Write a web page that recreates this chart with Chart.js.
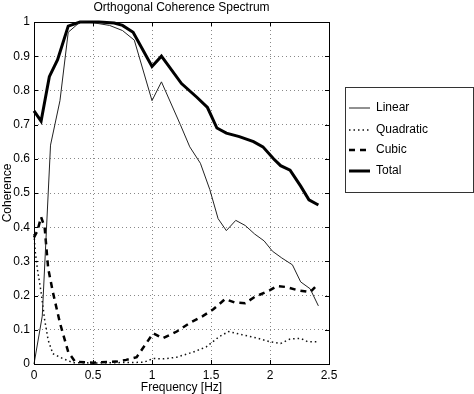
<!DOCTYPE html>
<html>
<head>
<meta charset="utf-8">
<script src="https://cdn.jsdelivr.net/npm/chart.js@4/dist/chart.umd.min.js"></script>
<style>
  body { margin: 0; background: #fff; }
  #wrap { width: 474px; height: 394px; position: relative; }
</style>
</head>
<body>
<div id="wrap"><canvas id="cohChart"></canvas></div>
<script>
// Data
var freqLinear = [0, 0.07, 0.14, 0.22, 0.29, 0.39, 0.5, 0.64, 0.75, 0.85, 1.0, 1.08, 1.24, 1.32, 1.41, 1.49, 1.56, 1.63, 1.71, 1.79, 1.87, 1.95, 2.02, 2.10, 2.19, 2.26, 2.34, 2.41];
var linear     = [0, 0.14, 0.64, 0.77, 0.97, 1.0, 0.998, 0.99, 0.975, 0.947, 0.77, 0.825, 0.70, 0.635, 0.587, 0.51, 0.425, 0.39, 0.42, 0.405, 0.38, 0.36, 0.33, 0.31, 0.29, 0.24, 0.22, 0.17];

var freqQuad   = [0, 0.01, 0.03, 0.06, 0.09, 0.12, 0.16, 0.25, 0.33, 0.5, 0.93, 1.01, 1.1, 1.21, 1.35, 1.46, 1.57, 1.65, 1.77, 1.89, 2.0, 2.09, 2.17, 2.26, 2.32, 2.41];
var quadratic  = [0.38, 0.33, 0.275, 0.21, 0.13, 0.07, 0.03, 0.015, 0.004, 0.003, 0.005, 0.016, 0.015, 0.02, 0.035, 0.05, 0.08, 0.095, 0.085, 0.076, 0.065, 0.06, 0.073, 0.075, 0.065, 0.065];

var freqCubic  = [0, 0.03, 0.06, 0.09, 0.12, 0.16, 0.22, 0.29, 0.35, 0.5, 0.7, 0.78, 0.87, 0.95, 1.01, 1.09, 1.21, 1.32, 1.43, 1.52, 1.62, 1.70, 1.79, 1.87, 2.0, 2.06, 2.14, 2.23, 2.34, 2.41];
var cubic      = [0.37, 0.39, 0.43, 0.40, 0.28, 0.21, 0.12, 0.035, 0.006, 0.004, 0.007, 0.012, 0.02, 0.06, 0.09, 0.075, 0.095, 0.12, 0.14, 0.16, 0.19, 0.18, 0.178, 0.196, 0.216, 0.228, 0.225, 0.216, 0.21, 0.235];

var freqTotal  = [0, 0.06, 0.13, 0.20, 0.29, 0.39, 0.55, 0.68, 0.75, 0.84, 1.0, 1.08, 1.25, 1.38, 1.47, 1.55, 1.63, 1.74, 1.86, 1.94, 2.03, 2.09, 2.17, 2.26, 2.33, 2.41];
var total      = [0.74, 0.71, 0.84, 0.89, 0.988, 1.0, 1.0, 0.997, 0.99, 0.97, 0.87, 0.90, 0.82, 0.78, 0.75, 0.69, 0.675, 0.665, 0.65, 0.635, 0.60, 0.58, 0.567, 0.52, 0.48, 0.465];

var seriesNames = ['Linear', 'Quadratic', 'Cubic', 'Total'];

function toPoints(xs, ys) {
    return xs.map((x, i) => ({ x: x, y: ys[i] }));
}

// MATLAB style labels: 0, 0.1, ... 1 (no trailing zeros)
function tickLabel(v) {
    return String(+Number(v).toFixed(2));
}

var FONT = 'Liberation Sans, Arial, Helvetica, sans-serif';

// MATLAB-ish frame: box, inward ticks, title, legend
var framePlugin = {
    id: 'frame',
    afterDatasetsDraw(chart) {
        var ctx = chart.ctx, a = chart.chartArea;
        var xs = chart.scales.x, ys = chart.scales.y;
        ctx.save();
        ctx.strokeStyle = '#000';
        ctx.lineWidth = 1;
        ctx.setLineDash([]);
        ctx.strokeRect(Math.round(a.left) + 0.5, Math.round(a.top) + 0.5,
            Math.round(a.right - a.left), Math.round(a.bottom - a.top));
        var tl = 4;
        ctx.beginPath();
        xs.ticks.forEach(t => {
            var px = Math.round(xs.getPixelForValue(t.value)) + 0.5;
            ctx.moveTo(px, a.bottom); ctx.lineTo(px, a.bottom - tl);
            ctx.moveTo(px, a.top); ctx.lineTo(px, a.top + tl);
        });
        ys.ticks.forEach(t => {
            var py = Math.round(ys.getPixelForValue(t.value)) + 0.5;
            ctx.moveTo(a.left, py); ctx.lineTo(a.left + tl, py);
            ctx.moveTo(a.right, py); ctx.lineTo(a.right - tl, py);
        });
        ctx.stroke();

        // title
        ctx.fillStyle = '#000';
        ctx.font = '12px ' + FONT;
        ctx.textAlign = 'center';
        ctx.textBaseline = 'middle';
        ctx.fillText('Orthogonal Coherence Spectrum', (a.left + a.right) / 2, 8);

        // legend box
        var bx = 345.5, by = 87.5, bw = 128, bh = 105;
        ctx.fillStyle = '#fff';
        ctx.fillRect(bx, by, bw, bh);
        ctx.strokeStyle = '#333';
        ctx.strokeRect(bx, by, bw, bh);
        var rows = [108, 130, 150, 171];
        chart.data.datasets.forEach((ds, i) => {
            var y = rows[i];
            ctx.beginPath();
            ctx.strokeStyle = ds.borderColor;
            ctx.lineWidth = ds.borderWidth;
            ctx.setLineDash(ds.borderDash || []);
            ctx.moveTo(349, y); ctx.lineTo(370, y);
            ctx.stroke();
            ctx.setLineDash([]);
            ctx.fillStyle = '#000';
            ctx.textAlign = 'left';
            ctx.fillText(ds.label, 376, y);
        });
        ctx.restore();
    }
};

var cohCtx = document.getElementById('cohChart').getContext('2d');
var cohChart = new Chart(cohCtx, {
    type: 'line',
    data: {
        datasets: [{
            label: seriesNames[0],
            data: toPoints(freqLinear, linear),
            borderColor: '#222',
            borderWidth: 1,
        }, {
            label: seriesNames[1],
            data: toPoints(freqQuad, quadratic),
            borderColor: '#111',
            borderWidth: 1.5,
            borderDash: [1.5, 3],
        }, {
            label: seriesNames[2],
            data: toPoints(freqCubic, cubic),
            borderColor: '#000',
            borderWidth: 2.5,
            borderDash: [6, 5],
        }, {
            label: seriesNames[3],
            data: toPoints(freqTotal, total),
            borderColor: '#000',
            borderWidth: 3,
        }]
    },
    options: {
        responsive: true,
        maintainAspectRatio: false,
        animation: false,
        clip: false,
        elements: {
            point: { radius: 0 },
            line: { tension: 0, fill: false }
        },
        layout: {
            padding: { top: 22, right: 145, left: 0, bottom: 0 }
        },
        plugins: {
            legend: { display: false },
            tooltip: { enabled: false }
        },
        scales: {
            x: {
                type: 'linear',
                min: 0,
                max: 2.5,
                afterFit: s => { s.height = 30; },
                ticks: { stepSize: 0.5, color: '#000', padding: 4, maxRotation: 0,
                         callback: tickLabel,
                         font: { family: FONT, size: 12 } },
                grid: { color: '#888', drawTicks: false },
                border: { display: false, dash: [1, 3] },
                title: { display: true, text: 'Frequency [Hz]', color: '#000',
                         font: { family: FONT, size: 12 }, padding: { top: 0, bottom: -0.5 } }
            },
            y: {
                min: 0,
                max: 1,
                afterFit: s => { s.width = 34; },
                ticks: { stepSize: 0.1, color: '#000', padding: 4,
                         callback: tickLabel,
                         font: { family: FONT, size: 12 } },
                grid: { color: '#888', drawTicks: false },
                border: { display: false, dash: [1, 3] },
                title: { display: true, text: 'Coherence', color: '#000',
                         font: { family: FONT, size: 12 }, padding: { top: 0, bottom: 0 } }
            }
        }
    },
    plugins: [framePlugin]
});
</script>
</body>
</html>
